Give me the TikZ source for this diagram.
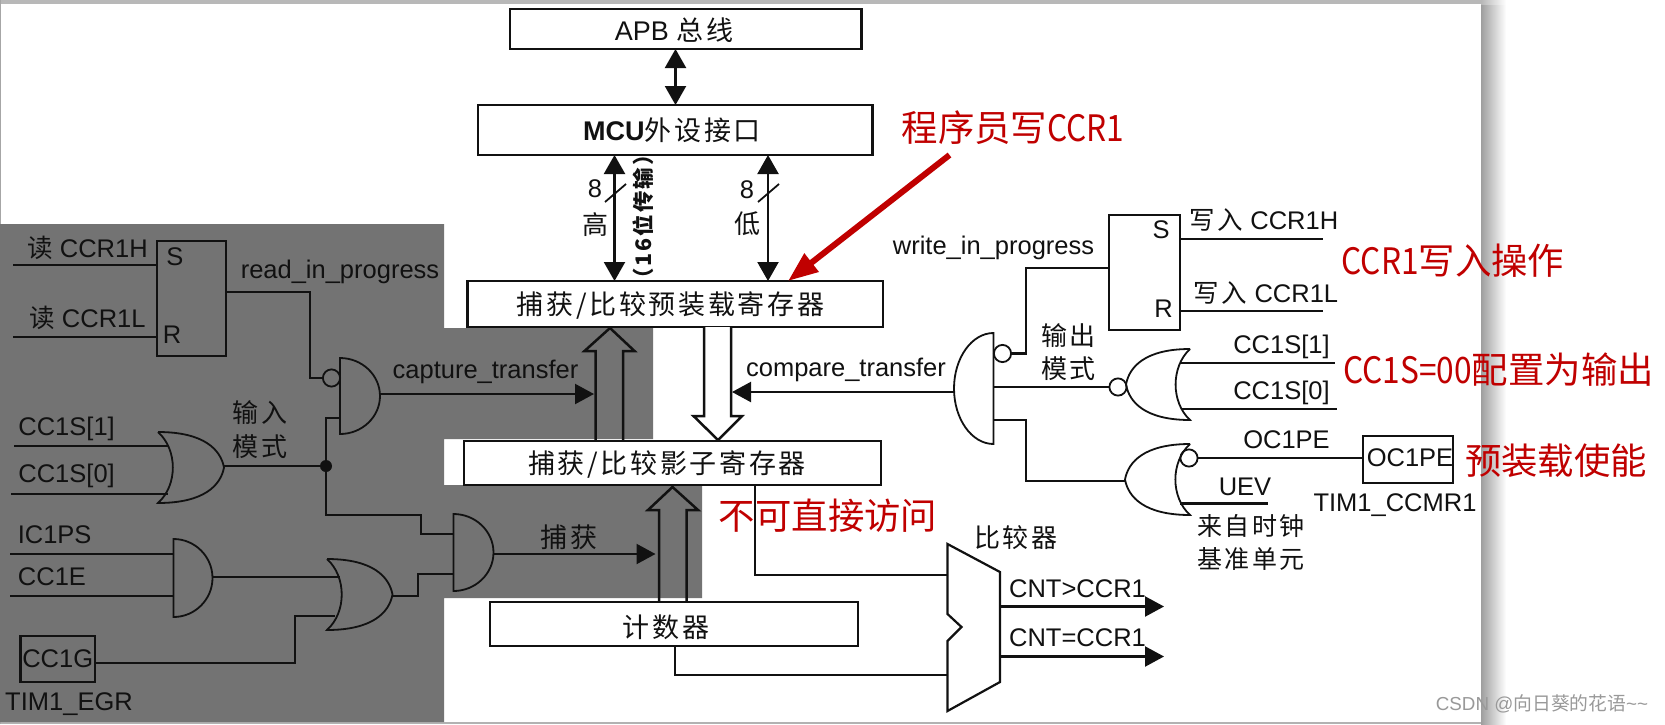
\documentclass[tikz,border=0pt]{standalone}
\usepackage{fontspec}
\usetikzlibrary{arrows.meta}
\setmainfont{Liberation Sans}
\newfontfamily\cj[LetterSpace=10]{Noto Sans CJK SC}
\newfontfamily\rcj{Noto Sans CJK SC}
\newfontfamily\rlat[FakeStretch=0.87]{Noto Sans CJK SC}
\definecolor{inkc}{HTML}{111111}
\definecolor{redc}{HTML}{C00000}
\definecolor{grayc}{HTML}{737373}
\newcommand{\ORG}[4]{%
  \draw[gate] (#1,#2) .. controls ({#1+0.7*(#4-#1)},#2) and ({#4-0.05*(#4-#1)},{(#2+#3)/2-0.25*(#3-#2)}) .. (#4,{(#2+#3)/2})
    .. controls ({#4-0.05*(#4-#1)},{(#2+#3)/2+0.25*(#3-#2)}) and ({#1+0.7*(#4-#1)},#3) .. (#1,#3)
    .. controls ({#1+0.3*(#4-#1)},{(#2+#3)/2+0.25*(#3-#2)}) and ({#1+0.3*(#4-#1)},{(#2+#3)/2-0.25*(#3-#2)}) .. (#1,#2);}
\newcommand{\ANDG}[4]{%
  \draw[gate] (#1,#2) .. controls ({#1+0.55*(#4-#1)},#2) and (#4,{(#2+#3)/2-0.275*(#3-#2)}) .. (#4,{(#2+#3)/2})
    .. controls (#4,{(#2+#3)/2+0.275*(#3-#2)}) and ({#1+0.55*(#4-#1)},#3) .. (#1,#3) -- cycle;}
\tikzset{
  wire/.style={draw=inkc,line width=1.1pt},
  gate/.style={draw=inkc,line width=0.9pt},
  bus/.style={draw=inkc,line width=1.25pt},
  regbox/.style={draw=inkc,line width=1.2pt,fill=white,inner sep=0pt,outer sep=0pt,font=\fontsize{13.5}{16}\selectfont,text=inkc},
  plainbox/.style={draw=inkc,line width=1.1pt,inner sep=0pt,outer sep=0pt,font=\fontsize{12.75}{15}\selectfont,text=inkc},
  lab/.style={inner sep=0pt,outer sep=0pt,font=\fontsize{12.75}{15}\selectfont,text=inkc},
  redlab/.style={inner sep=0pt,outer sep=0pt,font=\fontsize{18.2}{22}\selectfont,text=redc},
  tip/.style={-{Triangle[length=9.5pt,width=10pt]}},
  tips/.style={{Triangle[length=9.5pt,width=10.5pt]}-{Triangle[length=9.5pt,width=10.5pt]}},
  bubble/.style={circle,draw=inkc,line width=0.9pt,minimum size=8.6pt,inner sep=0pt,outer sep=0pt},
  jdot/.style={circle,fill=inkc,minimum size=6pt,inner sep=0pt,outer sep=0pt}
}
\begin{document}
\begin{tikzpicture}[x=0.5pt,y=-0.5pt]
\useasboundingbox (0,0) rectangle (1665,724);
% page and its shadow
\fill[white] (0,0) rectangle (1665,724);
\fill[left color=black!38,middle color=black!7,right color=white] (1481,4) rectangle (1506,724);
\fill[black!28] (0,0) rectangle (1481,4);
\fill[left color=black!28,right color=white] (1481,0) rectangle (1506,4);
\fill[black!30] (0,721.5) rectangle (1481,724);
\fill[black!35] (0,0) rectangle (1,724);
% grey overlay
\fill[grayc] (0,224) -- (444,224) -- (444,328) -- (653,328) -- (653,439) -- (444,439) -- (444,485) -- (702,485) -- (702,598) -- (444,598) -- (444,722) -- (0,722) -- cycle;

% registers
\node[regbox,minimum width=175.75pt,minimum height=20pt] (apb) at (685.75,29) {};
\node[lab,font=\fontsize{13.5}{16}\selectfont] (apbtxt) at (674,30) {APB {\cj 总线}};
\node[regbox,minimum width=197.25pt,minimum height=25pt] (mcu) at (675.25,130) {};
\node[lab,font=\fontsize{13.5}{16}\selectfont] (mcutxt) at (672,130) {\textbf{MCU}{\cj 外设接口}};
\node[regbox,minimum width=207.75pt,minimum height=23pt] (pre) at (675.25,304) {};
\node[lab,font=\fontsize{13.5}{16}\selectfont\cj] (pretxt) at (670.5,305) {捕获/比较预装载寄存器};
\node[regbox,minimum width=208.5pt,minimum height=22pt] (sha) at (672.5,463) {};
\node[lab,font=\fontsize{13.5}{16}\selectfont\cj] (shatxt) at (667,464) {捕获/比较影子寄存器};
\node[regbox,minimum width=184pt,minimum height=22.25pt] (cnt) at (674,624) {};
\node[lab,font=\fontsize{13.5}{16}\selectfont\cj] (cnttxt) at (666,627) {计数器};

% bus arrows
\coordinate (ap) at (675.5,0);
\draw[wire,tips] (apb.south -| ap) -- (mcu.north -| ap);
\coordinate (hi) at (614.5,0);
\coordinate (lo) at (768,0);
\draw[wire,tips] (mcu.south -| hi) -- (pre.north -| hi);
\draw[wire,tips] (mcu.south -| lo) -- (pre.north -| lo);
\coordinate (s1a) at (605,202); \coordinate (s1b) at (626,184);
\coordinate (s2a) at (758,202); \coordinate (s2b) at (779,184);
\draw[gate] (s1a) -- (s1b);
\draw[gate] (s2a) -- (s2b);
\node[lab] (n8a) at (595,189) {8};
\node[lab] (n8b) at (747,190) {8};
\node[lab,font=\fontsize{13}{15}\selectfont\cj] (ngao) at (595,225) {高};
\node[lab,font=\fontsize{13}{15}\selectfont\cj] (ndi) at (747,224) {低};
\node[lab,rotate=90,font=\fontsize{10.7}{13}\selectfont\bfseries\cj] (n16) at (643,217) {（16位传输）};

% left flip-flop
\node[plainbox,minimum width=34.5pt,minimum height=57.5pt] (srl) at (191.5,298.5) {};
\node[lab] (srls) at (175,257) {S};
\node[lab] (srlr) at (172,335) {R};
\coordinate (il1) at (13,265); \coordinate (il2) at (13,337);
\draw[wire] (il1) -- (il1 -| srl.west);
\draw[wire] (il2) -- (il2 -| srl.west);
\node[lab] (tl1) at (87.5,248) {{\cj 读} CCR1H};
\node[lab] (tl2) at (87.5,318) {{\cj 读} CCR1L};
\node[lab] (trip) at (340,272) {read\_in\_progress};

% capture AND
\ANDG{340}{358}{434}{380}
\node[bubble] (bub1) at (331.5,378) {};
\coordinate (a1out) at (380,394); \coordinate (a1tip) at (594,394);
\coordinate (rq) at (226,292);
\coordinate (rc) at (310,292);
\draw[wire] (rq) -- (rc) |- (bub1.west);
\draw[wire,tip] (a1out) -- (a1tip);
\node[lab] (tct) at (485.5,372) {capture\_transfer};

% input-mode OR
\ORG{158}{432}{503}{224}
\coordinate (or1o) at (224,466);
\node[jdot] (dot) at (326,466) {};
\draw[wire] (or1o) -- (dot);
\coordinate (or1a) at (14,446); \coordinate (or1ae) at (168,446);
\coordinate (or1b) at (11,494); \coordinate (or1be) at (168,494);
\draw[wire] (or1a) -- (or1ae);
\draw[wire] (or1b) -- (or1be);
\node[lab] (tcs1) at (66.6,429) {CC1S[1]};
\node[lab] (tcs0) at (66.6,476) {CC1S[0]};
\node[lab,font=\fontsize{13}{15}\selectfont\cj] (tin1) at (260,413) {输入};
\node[lab,font=\fontsize{13}{15}\selectfont\cj] (tin2) at (260,447) {模式};
\coordinate (a1in) at (340,418);
\draw[wire] (dot) |- (a1in);

% capture gate
\ANDG{453.5}{514}{591}{493.5}
\coordinate (a2i1) at (453.5,534); \coordinate (b1) at (326,515); \coordinate (b2) at (421,515);
\draw[wire] (dot) -- (b1) -- (b2) |- (a2i1);
\coordinate (a2o) at (493.5,554); \coordinate (a2tip) at (655.5,554);
\draw[wire,tip] (a2o) -- (a2tip);
\node[lab,font=\fontsize{13.5}{16}\selectfont\cj] (tcap) at (569,537) {捕获};

% OR2 and AND3
\ORG{327}{559}{630}{392.5}
\ANDG{173.5}{539}{617}{212.5}
\coordinate (a3i1) at (10,554); \coordinate (a3i1e) at (173.5,554);
\coordinate (a3i2) at (10,596); \coordinate (a3i2e) at (173.5,596);
\draw[wire] (a3i1) -- (a3i1e);
\draw[wire] (a3i2) -- (a3i2e);
\node[lab] (tic) at (54.6,535) {IC1PS};
\node[lab] (tce) at (52,577) {CC1E};
\coordinate (a3o) at (212.5,577); \coordinate (o2i1) at (340,577);
\draw[wire] (a3o) -- (o2i1);
\coordinate (o2o) at (392.5,596); \coordinate (c1) at (418,596); \coordinate (a2i2) at (453.5,574);
\draw[wire] (o2o) -- (c1) |- (a2i2);
\node[plainbox,minimum width=37.25pt,minimum height=23pt] (cc1g) at (57.75,659) {CC1G};
\coordinate (d1) at (295,663); \coordinate (o2i2) at (335,616);
\draw[wire] (cc1g.east |- d1) -- (d1) |- (o2i2);
\node[lab] (tegr) at (69,704) {TIM1\_EGR};

% hollow bus arrows
\draw[bus] (595.5,441) -- (595.5,351) -- (584.5,351) -- (610,328) -- (634.5,351) -- (623,351) -- (623,441);
\draw[bus,fill=white] (704,327) -- (704,416) -- (693.5,416) -- (718,440) -- (742,416) -- (731,416) -- (731,327);
\draw[bus] (659,601) -- (659,510) -- (648,510) -- (672.5,487) -- (698,510) -- (686.5,510) -- (686.5,601);

% output AND
\ANDG{993.5}{333}{444}{954}
\coordinate (cmpo) at (954,392); \coordinate (cmptip) at (732,392);
\draw[wire,tip] (cmpo) -- (cmptip);
\node[lab] (tcmp) at (846,370) {compare\_transfer};
\node[bubble] (bub2) at (1002.5,353.5) {};

% right flip-flop
\node[plainbox,minimum width=35.5pt,minimum height=57.5pt] (srr) at (1144.5,272.5) {};
\node[lab] (srrs) at (1161,230) {S};
\node[lab] (srrr) at (1163.5,308.5) {R};
\coordinate (wq) at (1026,268);
\draw[wire] (srr.west |- wq) -- (wq) |- (bub2.east);
\node[lab] (twip) at (993.5,248) {write\_in\_progress};
\coordinate (ow1) at (1322.5,239); \coordinate (ow2) at (1322.5,311);
\draw[wire] (srr.east |- ow1) -- (ow1);
\draw[wire] (srr.east |- ow2) -- (ow2);
\node[lab] (tw1) at (1264,220) {{\cj 写入} CCR1H};
\node[lab] (tw2) at (1266,293) {{\cj 写入} CCR1L};

% NOR1
\ORG{1190}{349}{420}{1126}
\node[bubble] (bub3) at (1118,387) {};
\coordinate (am) at (993.5,387);
\draw[wire] (am) -- (bub3.west);
\coordinate (n1a) at (1181,363); \coordinate (n1ae) at (1335,363);
\coordinate (n1b) at (1181,409); \coordinate (n1be) at (1337,409);
\draw[wire] (n1a) -- (n1ae);
\draw[wire] (n1b) -- (n1be);
\node[lab] (tr1) at (1281.5,346.5) {CC1S[1]};
\node[lab] (tr0) at (1281.5,392.5) {CC1S[0]};
\node[lab,font=\fontsize{13}{15}\selectfont\cj] (to1) at (1068.5,335.5) {输出};
\node[lab,font=\fontsize{13}{15}\selectfont\cj] (to2) at (1068.5,369) {模式};

% NOR2
\ORG{1190}{444}{515}{1125}
\coordinate (al) at (993.5,420); \coordinate (e1) at (1026,420); \coordinate (n2o) at (1125,481);
\draw[wire] (al) -- (e1) |- (n2o);
\node[bubble] (bub4) at (1189,458) {};
\node[plainbox,minimum width=45pt,minimum height=23.5pt] (ocbox) at (1408,459.5) {};
\node[lab] (octxt) at (1410,458) {OC1PE};
\draw[wire] (bub4.east) -- (ocbox.west |- bub4);
\node[lab] (toc) at (1286.5,440) {OC1PE};
\coordinate (u1) at (1180,503.5); \coordinate (u2) at (1267.5,503.5);
\draw[wire] (u1) -- (u2);
\node[lab] (tuev) at (1245,486.5) {UEV};
\node[lab,font=\fontsize{12.5}{15}\selectfont\cj] (tb1) at (1251,525.5) {来自时钟};
\node[lab,font=\fontsize{12.5}{15}\selectfont\cj] (tb2) at (1251,558.5) {基准单元};
\node[lab] (tccmr) at (1395,505.5) {TIM1\_CCMR1};

% comparator
\draw[gate,line width=1.1pt] (947.5,544) -- (1000,572) -- (1000,682) -- (947.5,711) -- (947.5,641) -- (961.5,627) -- (947.5,614) -- cycle;
\node[lab,font=\fontsize{13}{15}\selectfont\cj] (tcmpr) at (1016,537.5) {比较器};
\coordinate (ci1) at (947.5,575); \coordinate (ci2) at (947.5,675);
\coordinate (sx) at (755,575); \coordinate (cx2) at (675,675);
\draw[wire] (sha.south -| sx) -- (sx) -- (ci1);
\draw[wire] (cnt.south -| cx2) -- (cx2) -- (ci2);
\coordinate (co1) at (1000,606.5); \coordinate (co1t) at (1164,606.5);
\coordinate (co2) at (1000,656.5); \coordinate (co2t) at (1164,656.5);
\draw[wire,tip] (co1) -- (co1t);
\draw[wire,tip] (co2) -- (co2t);
\node[lab] (tgt) at (1077.5,589) {CNT>CCR1};
\node[lab] (teq) at (1077.5,638) {CNT=CCR1};

% red annotations
\node[redlab] (r1) at (1013,128) {\rcj 程序员写{\rlat CCR1}};
\coordinate (ra) at (949.5,155); \coordinate (rb) at (788,0);
\draw[redc,line width=3pt,-{Triangle[length=15pt,width=11pt]}] (ra) -- (pre.north -| rb);
\node[redlab] (r2) at (1453,261) {{\rlat CCR1}\rcj 写入操作};
\node[redlab] (r3) at (1498.5,370) {{\rlat CC1S=00}\rcj 配置为输出};
\node[redlab] (r4) at (1556,460.5) {\rcj 预装载使能};
\node[redlab] (r5) at (828,516) {\rcj 不可直接访问};
\node[inner sep=0pt,font=\fontsize{9.4}{11}\selectfont,text=black!40] (wm) at (1542,704) {CSDN @{\rcj 向日葵的花语}\textasciitilde\textasciitilde};
\end{tikzpicture}
\end{document}
